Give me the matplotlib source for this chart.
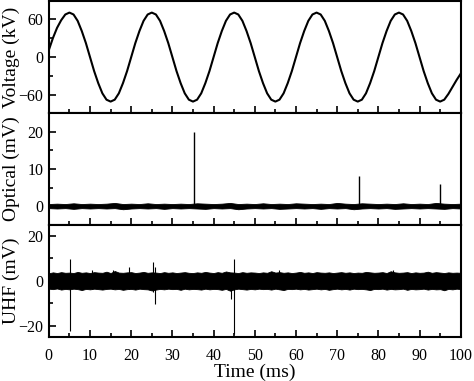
import numpy as np
import matplotlib
matplotlib.use('Agg')
import matplotlib.pyplot as plt
from matplotlib.ticker import MultipleLocator

plt.rcParams['font.family'] = ['Liberation Serif', 'DejaVu Serif']

# Voltage trace, one value per ms (kV)
voltage_kv = [11, 30, 46, 58, 67, 70, 67, 57, 41, 22, 0, -22, -41, -57, -67, -70, -67, -57, -41, -22,
              0, 22, 41, 57, 67, 70, 67, 57, 41, 22, 0, -22, -41, -57, -67, -70, -67, -57, -41, -22,
              0, 22, 41, 57, 67, 70, 67, 57, 41, 22, 0, -22, -41, -57, -67, -70, -67, -57, -41, -22,
              0, 22, 41, 57, 67, 70, 67, 57, 41, 22, 0, -22, -41, -57, -67, -70, -67, -57, -41, -22,
              0, 22, 41, 57, 67, 70, 67, 57, 41, 22, 0, -22, -41, -57, -67, -70, -67, -58, -47, -36,
              -26]

# Optical baseline noise envelope, every 2 ms (mV)
opt_upper = [0.6, 0.7, 0.6, 0.8, 0.6, 0.7, 0.6, 0.7, 0.9, 0.6, 0.7, 0.6, 0.8, 0.6, 0.7, 0.6,
             0.7, 0.6, 0.8, 0.7, 0.6, 0.7, 0.9, 0.6, 0.7, 0.6, 0.8, 0.6, 0.7, 0.6, 0.8, 0.7,
             0.6, 0.7, 0.6, 0.9, 0.7, 0.6, 0.8, 0.7, 0.6, 0.7, 0.6, 0.8, 0.6, 0.7, 0.6, 0.9,
             0.7, 0.6, 0.7]
opt_lower = [-0.5, -0.6, -0.5, -0.7, -0.5, -0.6, -0.5, -0.6, -0.5, -0.8, -0.6, -0.5, -0.6, -0.5, -0.7, -0.5,
             -0.6, -0.5, -0.6, -0.7, -0.5, -0.6, -0.5, -0.8, -0.6, -0.5, -0.6, -0.5, -0.7, -0.6, -0.5, -0.6,
             -0.5, -0.7, -0.5, -0.6, -0.5, -0.8, -0.6, -0.5, -0.6, -0.5, -0.7, -0.6, -0.5, -0.6, -0.5, -0.6,
             -0.7, -0.5, -0.6]
opt_spike_t = [35.2, 75.3, 95.0]
opt_spike_mv = [19.8, 8.0, 6.0]

# UHF noise envelope, every 1 ms (mV)
uhf_upper = [3.4, 3.8, 3.5, 3.9, 3.6, 3.7, 3.5, 4.0, 3.6, 3.8, 3.5, 3.9, 3.7, 3.6, 4.1, 3.5, 4.4, 3.7, 3.6, 3.8,
             3.9, 3.5, 3.7, 4.0, 3.6, 3.8, 3.7, 3.5, 3.9, 3.6, 3.8, 3.5, 3.7, 3.9, 3.6, 3.5, 3.8, 3.6, 4.0, 3.7,
             3.5, 3.9, 3.6, 4.2, 3.8, 3.7, 3.5, 3.9, 3.6, 3.8, 3.7, 3.5, 3.8, 3.6, 4.3, 3.7, 3.9, 3.6, 3.8, 3.5,
             3.7, 4.0, 3.6, 3.8, 3.5, 3.9, 3.7, 3.6, 3.8, 3.5, 3.7, 3.9, 3.6, 3.8, 3.5, 3.7, 3.6, 4.0, 3.8, 3.6,
             3.7, 3.9, 3.5, 4.3, 3.8, 3.6, 3.7, 3.9, 3.5, 3.8, 3.6, 3.7, 4.1, 3.6, 3.9, 3.7, 3.5, 3.8, 3.6, 3.7,
             3.6]
uhf_lower = [-3.5, -3.7, -3.4, -3.9, -3.6, -3.8, -3.5, -3.7, -4.1, -3.6, -3.8, -3.5, -3.7, -3.9, -3.6, -3.5, -3.8, -3.6, -4.0, -3.7,
             -3.6, -3.9, -3.5, -3.7, -3.8, -4.3, -3.9, -3.6, -3.8, -3.5, -3.7, -3.6, -4.0, -3.5, -3.8, -3.6, -3.7, -3.9, -3.5, -3.8,
             -3.6, -3.7, -4.0, -3.6, -4.4, -3.8, -3.5, -3.7, -3.9, -3.6, -3.8, -3.5, -3.7, -3.6, -3.9, -3.5, -3.8, -4.1, -3.6, -3.7,
             -3.5, -3.8, -3.6, -3.9, -3.7, -3.5, -3.8, -3.6, -4.0, -3.7, -3.5, -3.8, -3.6, -3.9, -3.5, -3.7, -3.6, -3.8, -4.1, -3.6,
             -3.7, -3.5, -3.9, -3.6, -3.8, -3.7, -3.5, -4.0, -3.6, -3.8, -3.7, -3.5, -3.9, -3.6, -3.8, -3.7, -4.2, -3.6, -3.8, -3.5,
             -3.7]
uhf_spike_t = [5.2, 10.6, 15.5, 19.5, 25.4, 25.8, 44.3, 44.9, 56.0, 83.5]
uhf_spike_top = [9.7, 4.8, 5.0, 6.0, 8.5, 6.0, 3.5, 9.7, 4.8, 4.8]
uhf_spike_bot = [-22.3, -3.5, -3.5, -3.5, -5.0, -10.5, -8.0, -23.8, -3.5, -3.5]

time_ms = np.linspace(0, 100, len(voltage_kv))
opt_t = np.linspace(0, 100, len(opt_upper))
uhf_t = np.linspace(0, 100, len(uhf_upper))

fig, axes = plt.subplots(3, 1, figsize=(4.74, 3.81), dpi=100, sharex=True)
fig.subplots_adjust(left=0.103, right=0.972, top=0.997, bottom=0.116, hspace=0)
ax1, ax2, ax3 = axes

ax1.plot(time_ms, voltage_kv, color='black', lw=1.5)
ax1.set_ylim(-88, 88)
ax1.yaxis.set_major_locator(MultipleLocator(60))
ax1.yaxis.set_minor_locator(MultipleLocator(30))
ax1.set_ylabel('Voltage (kV)', fontsize=14)

ax2.fill_between(opt_t, opt_lower, opt_upper, color='black', lw=0.6)
ax2.vlines(opt_spike_t, 0, opt_spike_mv, color='black', lw=1.0)
ax2.set_ylim(-5, 25)
ax2.yaxis.set_major_locator(MultipleLocator(10))
ax2.yaxis.set_minor_locator(MultipleLocator(5))
ax2.set_ylabel('Optical (mV)', fontsize=14)

ax3.fill_between(uhf_t, uhf_lower, uhf_upper, color='black', lw=0.6)
ax3.vlines(uhf_spike_t, uhf_spike_bot, uhf_spike_top, color='black', lw=0.8)
ax3.set_ylim(-25, 25)
ax3.yaxis.set_major_locator(MultipleLocator(20))
ax3.yaxis.set_minor_locator(MultipleLocator(10))
ax3.set_ylabel('UHF (mV)', fontsize=14)

ax3.set_xlim(0, 100)
ax3.xaxis.set_major_locator(MultipleLocator(10))
ax3.xaxis.set_minor_locator(MultipleLocator(5))
ax3.set_xlabel('Time (ms)', fontsize=14, labelpad=0)

for ax in axes:
    for s in ax.spines.values():
        s.set_linewidth(1.5)
    ax.tick_params(which='both', direction='in', top=False, right=False, labelsize=11.5, width=1.2, pad=4)
    ax.tick_params(which='major', length=5)
    ax.tick_params(which='minor', length=3)
    ax.yaxis.set_label_coords(-0.071, 0.5)

ax3.tick_params(axis='x', which='both', pad=8)

fig.savefig('out.png', dpi=100)
